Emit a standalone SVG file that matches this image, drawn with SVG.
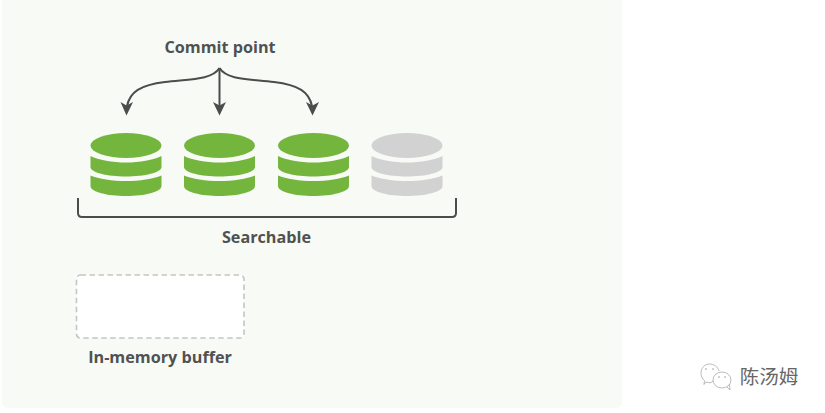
<svg xmlns="http://www.w3.org/2000/svg" width="825" height="413" viewBox="0 0 825 413">
<style>
text{font-family:"Open Sans","Noto Sans","Liberation Sans",sans-serif;font-weight:700;font-size:16.200px;fill:#4f5251;text-anchor:middle}
.conn{fill:none;stroke:#4a4d4c;stroke-width:2;stroke-linejoin:round}
.head{fill:#4a4d4c;stroke:none}
.wm{fill:none;stroke:#aaa;stroke-width:.8}
.dot{fill:#999}
</style>
<defs>
<g id="cyl">
<ellipse cx="35.500" cy="12.500" rx="35.500" ry="12.500"/>
<path d="M0,23C8,27 22,29.500 35.500,29.500S63,27 71,23V34C71,39.500 54,43.500 35.500,43.500S0,39.500 0,34Z"/>
<path d="M0,42.500C8,46 22,48 35.500,48S63,46 71,42.500V53C71,59 54,63 35.500,63S0,59 0,53Z"/>
</g>
</defs>
<rect width="825" height="413" fill="#fff"/>
<rect x="2" y="-6" width="620" height="414" rx="6" fill="#f8faf6"/>
<g id="connectors">
<path class="conn" d="M219.500,68C212,80 190,79 165,82C140,85 130,92 127,106"/>
<path class="conn" d="M219.500,68V106"/>
<path class="conn" d="M219.500,68C227,80 249,79 274,82C299,85 309,92 312,106"/>
<path class="head" d="M120.500,102L126.500,105.500L133,102L126.500,115.500Z"/>
<path class="head" d="M213,102L219.500,105.500L226,102L219.500,115.500Z"/>
<path class="head" d="M306,102L312.500,105.500L319,102L312.500,115.500Z"/>
<path class="conn" d="M78,198V213Q78,217 82,217H452Q456,217 456,213V198"/>
</g>
<g id="commit-point"><text x="220" y="53">Commit point</text></g>
<g id="segment-1" fill="#74b53d"><use href="#cyl" x="90.500" y="133"/></g>
<g id="segment-2" fill="#74b53d"><use href="#cyl" x="184" y="133"/></g>
<g id="segment-3" fill="#74b53d"><use href="#cyl" x="278" y="133"/></g>
<g id="segment-4" fill="#d2d2d2"><use href="#cyl" x="371.500" y="133"/></g>
<g id="searchable"><text x="266.500" y="243">Searchable</text></g>
<g id="buffer">
<rect x="76.500" y="275" width="167.500" height="63" rx="4" fill="#fff" stroke="#c4c6c4" stroke-width="1.600" stroke-dasharray="5.500 3.500"/>
<text x="160" y="363">In-memory buffer</text>
</g>
<g id="watermark">
<path class="wm" d="M713,381C711,383 709,383 706,382L704,384.500L704.500,380.500C702,378.500 701,376 701,373C701,367.500 705,364 709.500,364C714,364 718,367 719,371"/>
<ellipse class="wm" cx="722" cy="380" rx="9" ry="8"/>
<path class="wm" d="M727,387L730,390L729.500,384"/>
<circle class="dot" cx="706" cy="369" r=".8"/><circle class="dot" cx="713" cy="369" r=".8"/>
<circle class="dot" cx="719" cy="377" r=".8"/><circle class="dot" cx="725" cy="377" r=".8"/>
<text x="769" y="384" style="font-family:'Noto Sans CJK SC',sans-serif;font-weight:400;font-size:19.500px;fill:#666">陈汤姆</text>
</g>
</svg>
